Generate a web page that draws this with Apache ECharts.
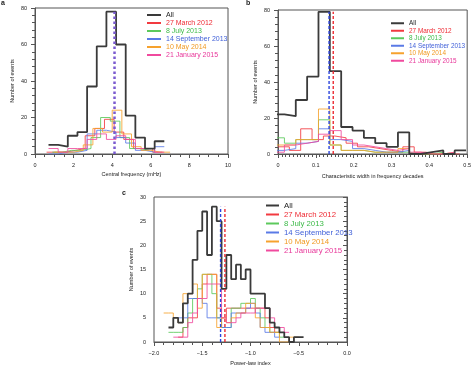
<!DOCTYPE html>
<html>
<head>
<meta charset="utf-8">
<script src="https://cdn.jsdelivr.net/npm/echarts@6/dist/echarts.min.js"></script>
<style>
html,body{margin:0;padding:0;background:#fff;}
#main{width:474px;height:368px;}
</style>
</head>
<body>
<div id="main"></div>
<script>
// series names (legend order)
var seriesNames = ['All', '27 March 2012', '8 July 2013', '14 September 2013', '10 May 2014', '21 January 2015'];
var lineColors = ['#3a3a3a', '#f23a40', '#5cc95c', '#5a7ae6', '#f6a22e', '#f04a9e'];
var textColors = ['#222222', '#ee2a33', '#3fbb4a', '#3f5fd8', '#f19a22', '#e8379a'];

// panel a : central frequency (mHz), bin width 0.5
var aBinWidth = 0.5;
var aStarts = [0.7, 0.6, 0.9, 0.7, 1.0, 0.7];
var aAll = [5, 4, 10, 12, 37, 59, 78, 60, 21, 9, 3, 7];
var aRed = [1, 1, 2, 3, 10, 14, 19, 12, 8, 3, 3, 1];
var aGreen = [1, 2, 2, 3, 9, 20, 18, 9, 3, 2];
var aBlue = [0, 1, 1, 2, 11, 13, 12, 9, 6, 2, 1, 4];
var aOrange = [1, 1, 2, 5, 14, 12, 24, 11, 4, 2, 1, 1];
var aPink = [3, 1, 3, 3, 8, 11, 8, 10, 8, 3, 3, 1];
var aMedian = [4.12, 78];

// panel b : characteristic width, bin width 0.03
var bBinWidth = 0.03;
var bStarts = [-0.013, 0.0, -0.013, -0.013, -0.013, -0.013];
var bAll = [22, 21, 30, 43, 79, 46, 15, 13, 9, 6, 4, 12, 0, 1, 2, 0, 2];
var bRed = [4, 2, 14, 8, 10, 9, 6, 4, 3, 2, 1, 4, 1, 0, 0, 0];
var bGreen = [9, 6, 8, 8, 19, 5, 2, 2, 1, 1, 1, 1, 0, 0, 1];
var bBlue = [2, 3, 6, 7, 14, 8, 7, 3, 2, 1, 1, 2, 0];
var bOrange = [5, 5, 8, 8, 25, 5, 2, 2, 1, 1, 1, 3, 0, 0, 0, 1];
var bPink = [1, 5, 6, 7, 11, 13, 8, 5, 4, 3, 2, 3, 1, 0, 0, 1];
var bMedianBlue = [0.135, 79];
var bMedianRed = [0.146, 79];

// panel c : power-law index, bin width 0.05
var cBinWidth = 0.05;
var cStarts = [-1.85, -1.75, -1.85, -1.75, -1.90, -1.80];
var cAll = [3, 5, 4, 8, 10, 17, 23, 27, 18, 28, 25, 11, 18, 13, 16, 13, 15, 10, 10, 10, 7, 4, 3, 2, 1, 0, 1, 1];
var cRed = [1, 3, 5, 5, 9, 12, 14, 14, 7, 5, 7, 7, 7, 7, 7, 7, 7, 7, 5, 3, 2];
var cGreen = [2, 2, 2, 3, 6, 9, 11, 14, 14, 10, 5, 3, 3, 7, 7, 8, 8, 9, 7, 5, 3, 2, 2, 1];
var cBlue = [5, 5, 9, 9, 9, 8, 5, 5, 5, 3, 3, 6, 6, 6, 7, 8, 6, 3, 2, 2, 1];
var cOrange = [6, 6, 5, 4, 10, 10, 12, 7, 14, 14, 14, 3, 5, 4, 5, 6, 6, 8, 8, 5, 3, 3, 2, 2, 0, 0, 1, 1];
var cPink = [1, 1, 1, 4, 6, 9, 9, 12, 12, 12, 5, 4, 4, 5, 6, 6, 6, 7, 7, 7, 5, 3, 3, 2];
var cMedianBlue = [-1.31, 28];
var cMedianRed = [-1.265, 28];

var fontName = 'Liberation Sans';
var axisColor = '#555';

// step points: left edge of each bin, plus closing right edge
function histPoints(start, width, counts) {
    var pts = [];
    for (var i = 0; i < counts.length; i++) {
        pts.push([start + i * width, counts[i]]);
    }
    pts.push([start + counts.length * width, counts[counts.length - 1]]);
    return pts;
}

function panelSeries(grid, starts, width, list) {
    var out = [];
    // coloured first, black "All" on top
    var order = [1, 2, 3, 4, 5, 0];
    for (var k = 0; k < order.length; k++) {
        var i = order[k];
        out.push({
            name: seriesNames[i],
            type: 'line',
            step: 'end',
            xAxisIndex: grid,
            yAxisIndex: grid,
            showSymbol: false,
            symbol: 'none',
            color: lineColors[i],
            lineStyle: {width: i == 0 ? 1.8 : 1, color: lineColors[i], opacity: i == 0 ? 1 : 0.85},
            data: histPoints(starts[i], width, list[i])
        });
    }
    return out;
}

function medianLine(grid, m, color, dash, width) {
    return {
        name: 'median' + grid + color,
        type: 'line',
        xAxisIndex: grid,
        yAxisIndex: grid,
        symbol: 'none',
        color: color,
        lineStyle: {color: color, width: width, type: dash},
        data: [[m[0], 0], [m[0], m[1]]],
        z: 5
    };
}

function legendOf(left, top, size, iw) {
    var items = [];
    for (var i = 0; i < seriesNames.length; i++) {
        items.push({name: seriesNames[i], textStyle: {color: textColors[i]}});
    }
    return {
        orient: 'vertical',
        left: left,
        top: top,
        icon: 'rect',
        itemWidth: iw,
        itemHeight: 2,
        itemGap: 1,
        padding: 0,
        textStyle: {fontSize: size, fontFamily: fontName, lineHeight: 6.5},
        selectedMode: false,
        data: items
    };
}

function xAxisOf(grid, min, max, interval, minorSplit, name, gap, fmt) {
    return {
        type: 'value', gridIndex: grid, min: min, max: max, interval: interval,
        name: name, nameLocation: 'middle', nameGap: gap,
        nameTextStyle: {fontSize: 5.5, fontFamily: fontName, color: '#222'},
        axisLine: {onZero: false, lineStyle: {color: axisColor, width: 1}},
        axisTick: {inside: false, length: 4, lineStyle: {color: axisColor}},
        minorTick: {show: true, splitNumber: minorSplit, length: 3, lineStyle: {color: axisColor}},
        splitLine: {show: false},
        axisLabel: {fontSize: 5.5, fontFamily: fontName, color: '#222', margin: 8, formatter: fmt}
    };
}

function yAxisOf(grid, max, interval, minorSplit, gap) {
    return {
        type: 'value', gridIndex: grid, min: 0, max: max, interval: interval,
        name: 'Number of events', nameLocation: 'middle', nameGap: gap,
        nameTextStyle: {fontSize: 5.5, fontFamily: fontName, color: '#222'},
        axisLine: {show: true, lineStyle: {color: axisColor, width: 1}},
        axisTick: {show: true, inside: false, length: 4, lineStyle: {color: axisColor}},
        minorTick: {show: true, splitNumber: minorSplit, length: 3, lineStyle: {color: axisColor}},
        splitLine: {show: false},
        axisLabel: {fontSize: 5.5, fontFamily: fontName, color: '#222', margin: 8}
    };
}

var chart = echarts.init(document.getElementById('main'), null, {renderer: 'canvas'});

var series = []
    .concat(panelSeries(0, aStarts, aBinWidth, [aAll, aRed, aGreen, aBlue, aOrange, aPink]))
    .concat(panelSeries(1, bStarts, bBinWidth, [bAll, bRed, bGreen, bBlue, bOrange, bPink]))
    .concat(panelSeries(2, cStarts, cBinWidth, [cAll, cRed, cGreen, cBlue, cOrange, cPink]));
series.push(medianLine(0, aMedian, '#7a5ad0', [2.5, 2.5], 2.5));
series.push(medianLine(1, bMedianBlue, '#2b44dc', [3, 2], 1.4));
series.push(medianLine(1, bMedianRed, '#ec2a30', [3, 2], 1.4));
series.push(medianLine(2, cMedianBlue, '#2b44dc', [3, 2], 1.4));
series.push(medianLine(2, cMedianRed, '#ec2a30', [3, 2], 1.4));

var option = {
    animation: false,
    backgroundColor: '#fff',
    title: [
        {text: 'a', left: 1, top: 0, padding: 0, textStyle: {fontSize: 7, fontWeight: 'bold', fontFamily: fontName, color: '#222'}},
        {text: 'b', left: 246, top: 0, padding: 0, textStyle: {fontSize: 7, fontWeight: 'bold', fontFamily: fontName, color: '#222'}},
        {text: 'c', left: 122, top: 190, padding: 0, textStyle: {fontSize: 7, fontWeight: 'bold', fontFamily: fontName, color: '#222'}}
    ],
    legend: [
        legendOf(147, 11.5, 7, 14),
        legendOf(391, 20, 6.4, 13),
        legendOf(266, 201.5, 7.8, 13)
    ],
    grid: [
        {left: 35, top: 8, width: 193, height: 146, show: true, borderColor: axisColor, borderWidth: 1},
        {left: 278, top: 10, width: 191, height: 144, show: true, borderColor: axisColor, borderWidth: 1},
        {left: 154, top: 197, width: 193, height: 145, show: true, borderColor: axisColor, borderWidth: 1}
    ],
    xAxis: [
        xAxisOf(0, 0, 10, 2, 4, 'Central frequency (mHz)', 17, null),
        xAxisOf(1, 0, 0.5, 0.1, 10, 'Characteristic width in frequency decades', 19, function (v) {
            return v == 0 ? '0' : v.toFixed(1);
        }),
        xAxisOf(2, -2, 0, 0.5, 5, 'Power-law index', 18, function (v) {
            return v < 0 ? '\u2212' + Math.abs(v).toFixed(1) : v.toFixed(1);
        })
    ],
    yAxis: [
        yAxisOf(0, 80, 20, 5, 20),
        yAxisOf(1, 80, 20, 5, 20),
        yAxisOf(2, 30, 5, 5, 20)
    ],
    series: series
};

chart.setOption(option);
</script>
</body>
</html>
